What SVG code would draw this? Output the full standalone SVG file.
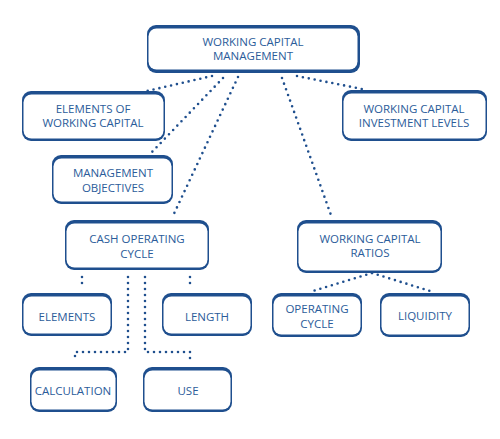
<svg xmlns="http://www.w3.org/2000/svg" width="500" height="439" viewBox="0 0 500 439">
<style>
.edge{fill:#1f4f8e}
.face{fill:#ffffff}
.t{font-family:"Open Sans","Noto Sans","DejaVu Sans",sans-serif;font-size:11.5px;fill:#2b5c9a;text-anchor:middle}
.c{fill:none;stroke:#1f4f8e;stroke-width:2.6;stroke-linecap:round;stroke-dasharray:0 6}
</style>
<rect width="500" height="439" fill="#ffffff"/>
<g id="connectors">
<line class="c" x1="212" y1="76" x2="147" y2="91"/>
<line class="c" x1="223" y1="78" x2="152" y2="152"/>
<line class="c" x1="238" y1="77" x2="172" y2="218"/>
<line class="c" x1="282" y1="78" x2="332" y2="218"/>
<line class="c" x1="297" y1="76" x2="362" y2="89"/>
<line class="c" x1="82" y1="277" x2="82" y2="289"/>
<line class="c" x1="190" y1="277" x2="190" y2="289"/>
<polyline class="c" points="128,277 128,352 75,352 75,360"/>
<polyline class="c" points="145,277 145,352 190,352 190,360"/>
<line class="c" x1="372" y1="273" x2="313" y2="291"/>
<line class="c" x1="372" y1="273" x2="430" y2="291"/>
</g>
<g id="n-main">
<rect class="edge" x="147" y="25" width="213" height="48" rx="9"/>
<rect class="face" x="148.5" y="28.5" width="209" height="41" rx="8"/>
<text class="t" x="253" y="46">WORKING CAPITAL</text>
<text class="t" x="253" y="60">MANAGEMENT</text>
</g>
<g id="n-elements-wc">
<rect class="edge" x="22" y="91" width="143" height="50" rx="9"/>
<rect class="face" x="23.5" y="94.5" width="140" height="44" rx="8"/>
<text class="t" x="93" y="113">ELEMENTS OF</text>
<text class="t" x="93" y="127">WORKING CAPITAL</text>
</g>
<g id="n-mgmt-obj">
<rect class="edge" x="52" y="155" width="121" height="49" rx="9"/>
<rect class="face" x="53.5" y="158.5" width="118" height="43" rx="8"/>
<text class="t" x="113" y="177">MANAGEMENT</text>
<text class="t" x="113" y="192">OBJECTIVES</text>
</g>
<g id="n-cash-op">
<rect class="edge" x="65" y="220" width="144" height="50" rx="9"/>
<rect class="face" x="66.5" y="223.5" width="141" height="44" rx="8"/>
<text class="t" x="137" y="243">CASH OPERATING</text>
<text class="t" x="137" y="258">CYCLE</text>
</g>
<g id="n-elements">
<rect class="edge" x="22" y="293" width="90" height="43" rx="9"/>
<rect class="face" x="23.5" y="296.5" width="87" height="37" rx="8"/>
<text class="t" x="67" y="321">ELEMENTS</text>
</g>
<g id="n-length">
<rect class="edge" x="162" y="293" width="90" height="43" rx="9"/>
<rect class="face" x="163.5" y="296.5" width="87" height="37" rx="8"/>
<text class="t" x="207" y="321">LENGTH</text>
</g>
<g id="n-calculation">
<rect class="edge" x="30" y="367" width="87" height="45" rx="9"/>
<rect class="face" x="31.5" y="370.5" width="84" height="39" rx="8"/>
<text class="t" x="73" y="395">CALCULATION</text>
</g>
<g id="n-use">
<rect class="edge" x="143" y="367" width="89" height="45" rx="9"/>
<rect class="face" x="144.5" y="370.5" width="86" height="39" rx="8"/>
<text class="t" x="188" y="395">USE</text>
</g>
<g id="n-investment">
<rect class="edge" x="342" y="90" width="145" height="51" rx="9"/>
<rect class="face" x="343.5" y="93.5" width="142" height="45" rx="8"/>
<text class="t" x="414" y="113">WORKING CAPITAL</text>
<text class="t" x="414" y="127">INVESTMENT LEVELS</text>
</g>
<g id="n-ratios">
<rect class="edge" x="297" y="220" width="145" height="53" rx="9"/>
<rect class="face" x="298.5" y="223.5" width="142" height="47" rx="8"/>
<text class="t" x="370" y="243">WORKING CAPITAL</text>
<text class="t" x="370" y="257">RATIOS</text>
</g>
<g id="n-op-cycle">
<rect class="edge" x="272" y="293" width="90" height="44" rx="9"/>
<rect class="face" x="273.5" y="296.5" width="87" height="38" rx="8"/>
<text class="t" x="317" y="313">OPERATING</text>
<text class="t" x="317" y="328">CYCLE</text>
</g>
<g id="n-liquidity">
<rect class="edge" x="380" y="293" width="90" height="44" rx="9"/>
<rect class="face" x="381.5" y="296.5" width="87" height="38" rx="8"/>
<text class="t" x="425" y="320">LIQUIDITY</text>
</g>
</svg>
